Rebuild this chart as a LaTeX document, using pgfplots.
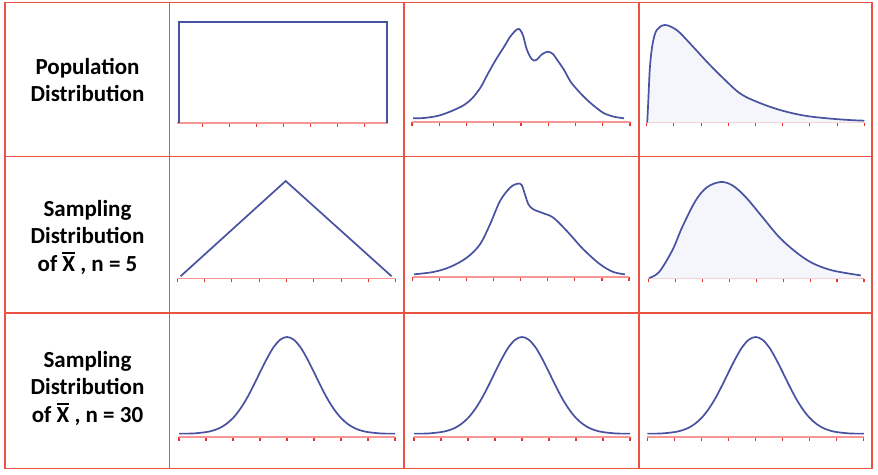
\documentclass[border=0pt]{standalone}
\usepackage{pgfplots}
\pgfplotsset{compat=1.18}
\usepackage{fontspec}
\setmainfont{Carlito}
\definecolor{border}{RGB}{236,82,68}
\definecolor{axisc}{RGB}{247,150,148}
\definecolor{tickc}{RGB}{235,50,45}
\definecolor{curve}{RGB}{72,82,160}
\definecolor{fillc}{RGB}{245,246,251}
\newcommand\xbar{\leavevmode\setbox0\hbox{X}\rlap{\raisebox{\dimexpr\ht0+0.1em\relax}{\rule{\wd0}{0.065em}}}\box0}
\pgfplotsset{
  cell/.style={
    y=1pt, ymin=0, ymax=100, clip=false,
    anchor=south west,
    axis x line=bottom, axis y line=none,
    axis line style={-, draw=axisc, line width=1.6pt},
    xtick={0,...,8}, ytick=\empty, xticklabels={},
    x tick style={draw=tickc, line width=1.1pt},
    major tick length=3.8pt, tick align=outside,
  },
  crv/.style={draw=curve, line width=1.7pt, mark=none, smooth, tension=0.55},
}
\begin{document}
\begin{tikzpicture}[x=1pt,y=1pt]
\useasboundingbox (0,0) rectangle (878,474);
\fill[white] (0,0) rectangle (878,474);
% grid
\draw[border, line width=1.3pt] (5,5.5) rectangle (872,471.5);
\foreach \xx in {169.5,404,639} \draw[border, line width=1.3pt] (\xx,5.5) -- (\xx,471.5);
\foreach \yy in {317.5,161} \draw[border, line width=1.3pt] (5,\yy) -- (872,\yy);
% labels
\node[font=\fontsize{23}{27.5}\selectfont\bfseries, align=center] at (87.5,394) {Population\\Distribution};
\node[font=\fontsize{23}{27.5}\selectfont\bfseries, align=center] at (87.5,237) {Sampling\\Distribution\\of \xbar\ , n = 5};
\node[font=\fontsize{23}{27.5}\selectfont\bfseries, align=center] at (87.5,86) {Sampling\\Distribution\\of \xbar\ , n = 30};

% Row 1, col 2: uniform
\begin{axis}[cell, x=27pt, xmin=0.04, xmax=7.85, xtick={1,...,7}, at={(177pt,351pt)}]
\addplot[draw=curve, line width=1.7pt, mark=none] coordinates {(0.11,0) (0.11,101) (7.81,101) (7.81,0)};
\end{axis}
% Row 1, col 3: bimodal
\begin{axis}[cell, x=27.25pt, xmin=0, xmax=8, at={(412pt,352pt)}]
\addplot[crv] coordinates {
(0.04,3.7) (0.44,4) (0.93,6) (1.24,8.7) (1.54,12) (1.91,17) (2.21,23.7) (2.52,34.7) (2.76,47)
(3.07,62) (3.38,75.3) (3.62,86) (3.86,92.7) (3.97,92)
(4.08,86) (4.22,72) (4.40,62.7) (4.56,62) (4.77,67.7) (4.98,70.3) (5.17,68)
(5.33,62) (5.58,52) (5.82,40.3) (6.13,30.3) (6.43,22) (6.74,14.7) (7.05,8.7) (7.41,5.3) (7.78,3.7)};
\end{axis}
% Row 1, col 4: right-skewed population
\begin{axis}[cell, x=27.2pt, xmin=0, xmax=8, at={(646.7pt,351.3pt)}]
\addplot[fill=fillc, draw=none, smooth, tension=0.55] coordinates {
(0.02,0) (0.06,22.7) (0.12,56) (0.22,79.3) (0.37,92.7) (0.67,97.7) (1.10,92.7) (1.59,79.3)
(2.21,61) (2.82,44.3) (3.43,29.3) (4.04,21) (4.90,12.7) (5.88,6.7) (7.10,3.3) (8.0,2)} \closedcycle;
\addplot[crv] coordinates {
(0.02,0) (0.06,22.7) (0.12,56) (0.22,79.3) (0.37,92.7) (0.67,97.7) (1.10,92.7) (1.59,79.3)
(2.21,61) (2.82,44.3) (3.43,29.3) (4.04,21) (4.90,12.7) (5.88,6.7) (7.10,3.3) (8.0,2)};
\end{axis}

% Row 2, col 2: triangle
\begin{axis}[cell, x=27.3pt, xmin=0, xmax=8, at={(177.3pt,195.3pt)}]
\addplot[draw=curve, line width=1.7pt, mark=none] coordinates {(0.12,2.4) (3.97,97.7) (7.85,2.4)};
\end{axis}
% Row 2, col 3
\begin{axis}[cell, x=27.04pt, xmin=0, xmax=8, at={(412.7pt,197pt)}]
\addplot[crv] coordinates {
(0.05,2.7) (0.76,5) (1.38,10) (2.0,19.3) (2.49,32.7) (2.86,52.7) (3.23,76) (3.60,89.3)
(3.87,93.3) (4.03,92) (4.15,82.7) (4.28,72.7) (4.46,67.7) (4.83,63.7) (5.20,59.3) (5.70,46)
(6.31,27.7) (6.93,12.7) (7.42,5) (7.85,2.7)};
\end{axis}
% Row 2, col 4
\begin{axis}[cell, x=26.96pt, xmin=0, xmax=8, at={(648.3pt,195.3pt)}]
\addplot[fill=fillc, draw=none, smooth, tension=0.55] coordinates {
(0.03,0.7) (0.40,6.7) (0.89,28.3) (1.26,51.7) (1.76,78.3) (2.19,91.7) (2.69,96.7) (3.12,93.3)
(3.61,81.7) (4.23,61.7) (4.85,41.7) (5.47,26.7) (6.08,15.7) (6.82,8.3) (7.88,3.3)} \closedcycle;
\addplot[crv] coordinates {
(0.03,0.7) (0.40,6.7) (0.89,28.3) (1.26,51.7) (1.76,78.3) (2.19,91.7) (2.69,96.7) (3.12,93.3)
(3.61,81.7) (4.23,61.7) (4.85,41.7) (5.47,26.7) (6.08,15.7) (6.82,8.3) (7.88,3.3)};
\end{axis}

% Row 3: normal shapes
\begin{axis}[cell, x=27pt, xmin=0, xmax=8, at={(179pt,37pt)}]
\addplot[crv] coordinates {
(0,3.4) (0.5,3.5) (1.0,4.9) (1.25,6.4) (1.5,8.9) (1.75,13.0) (2.0,19.0) (2.25,27.4) (2.5,38.1)
(2.75,50.9) (3.0,64.7) (3.25,78.1) (3.5,89.7) (3.75,97.3) (4.0,100) (4.25,97.3) (4.5,89.7)
(4.75,78.1) (5.0,64.7) (5.25,50.9) (5.5,38.1) (5.75,27.4) (6.0,19.0) (6.25,13.0) (6.5,8.9)
(6.75,6.4) (7.0,4.9) (7.5,3.5) (8,3.4)};
\end{axis}
\begin{axis}[cell, x=27pt, xmin=0, xmax=8, at={(414pt,37pt)}]
\addplot[crv] coordinates {
(0,3.4) (0.5,3.5) (1.0,4.9) (1.25,6.4) (1.5,8.9) (1.75,13.0) (2.0,19.0) (2.25,27.4) (2.5,38.1)
(2.75,50.9) (3.0,64.7) (3.25,78.1) (3.5,89.7) (3.75,97.3) (4.0,100) (4.25,97.3) (4.5,89.7)
(4.75,78.1) (5.0,64.7) (5.25,50.9) (5.5,38.1) (5.75,27.4) (6.0,19.0) (6.25,13.0) (6.5,8.9)
(6.75,6.4) (7.0,4.9) (7.5,3.5) (8,3.4)};
\end{axis}
\begin{axis}[cell, x=27.08pt, xmin=0, xmax=8, at={(647.3pt,37pt)}]
\addplot[crv] coordinates {
(0,3.4) (0.5,3.5) (1.0,4.9) (1.25,6.4) (1.5,8.9) (1.75,13.0) (2.0,19.0) (2.25,27.4) (2.5,38.1)
(2.75,50.9) (3.0,64.7) (3.25,78.1) (3.5,89.7) (3.75,97.3) (4.0,100) (4.25,97.3) (4.5,89.7)
(4.75,78.1) (5.0,64.7) (5.25,50.9) (5.5,38.1) (5.75,27.4) (6.0,19.0) (6.25,13.0) (6.5,8.9)
(6.75,6.4) (7.0,4.9) (7.5,3.5) (8,3.4)};
\end{axis}
\end{tikzpicture}
\end{document}
